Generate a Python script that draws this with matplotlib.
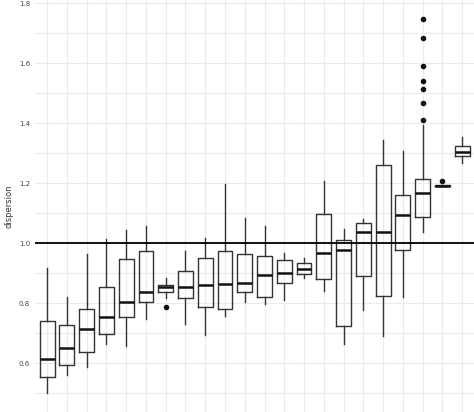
import matplotlib
matplotlib.use("Agg")
import matplotlib.pyplot as plt
from matplotlib.ticker import MultipleLocator

# box statistics (whislo, q1, med, q3, whishi)
whislo = [0.50, 0.56, 0.586, 0.663, 0.657, 0.747, 0.816, 0.73, 0.693, 0.757, 0.802,
          0.796, 0.81, 0.882, 0.841, 0.663, 0.777, 0.691, 0.821, 1.036, 1.191, 1.268]
q1 = [0.554, 0.593, 0.638, 0.696, 0.754, 0.803, 0.836, 0.817, 0.786, 0.779, 0.836,
      0.819, 0.866, 0.896, 0.88, 0.723, 0.89, 0.823, 0.977, 1.086, 1.189, 1.29]
med = [0.614, 0.649, 0.713, 0.754, 0.804, 0.838, 0.852, 0.853, 0.86, 0.864, 0.866,
       0.892, 0.901, 0.914, 0.966, 0.978, 1.036, 1.038, 1.094, 1.168, 1.191, 1.302]
q3 = [0.74, 0.727, 0.781, 0.854, 0.947, 0.974, 0.861, 0.908, 0.951, 0.972, 0.962,
      0.956, 0.942, 0.932, 1.096, 1.009, 1.068, 1.259, 1.16, 1.213, 1.193, 1.323]
whishi = [0.916, 0.821, 0.962, 1.012, 1.043, 1.056, 0.884, 0.973, 1.016, 1.196, 1.082,
          1.057, 0.968, 0.949, 1.208, 1.046, 1.08, 1.343, 1.308, 1.393, 1.191, 1.354]
outliers = {7: [0.787], 20: [1.746, 1.684, 1.59, 1.54, 1.512, 1.466, 1.41], 21: [1.207]}

stats = []
for i in range(len(med)):
    stats.append(dict(whislo=whislo[i], q1=q1[i], med=med[i], q3=q3[i],
                      whishi=whishi[i], fliers=outliers.get(i + 1, [])))

fig = plt.figure(figsize=(4.74, 4.12), dpi=100)
ax = fig.add_axes([0.074, 0.0, 0.926, 1.0])

ax.bxp(stats, positions=range(1, len(med) + 1), widths=0.75, showcaps=False,
       boxprops=dict(color="#333333", linewidth=1.0),
       whiskerprops=dict(color="#333333", linewidth=1.0),
       medianprops=dict(color="#111111", linewidth=1.8),
       flierprops=dict(marker="o", markerfacecolor="#111111", markeredgecolor="#111111",
                       markersize=3))
ax.axhline(1.0, color="black", linewidth=1.3)

ax.set_xlim(0.39, 22.6)
ax.set_ylim(0.437, 1.81)
ax.yaxis.set_major_locator(MultipleLocator(0.2))
ax.yaxis.set_minor_locator(MultipleLocator(0.1))
ax.set_xticks(range(1, 23))
ax.set_xticklabels([])
ax.grid(True, which="both", axis="y", color="#ebebeb", linewidth=0.8)
ax.grid(True, which="major", axis="x", color="#ebebeb", linewidth=0.8)
ax.set_axisbelow(True)
ax.tick_params(axis="both", which="both", length=0, labelsize=5, labelcolor="#444444")
for s in ax.spines.values():
    s.set_visible(False)
ax.set_ylabel("dispersion", fontsize=6, color="#333333", labelpad=4)

fig.savefig("out.png", dpi=100)
